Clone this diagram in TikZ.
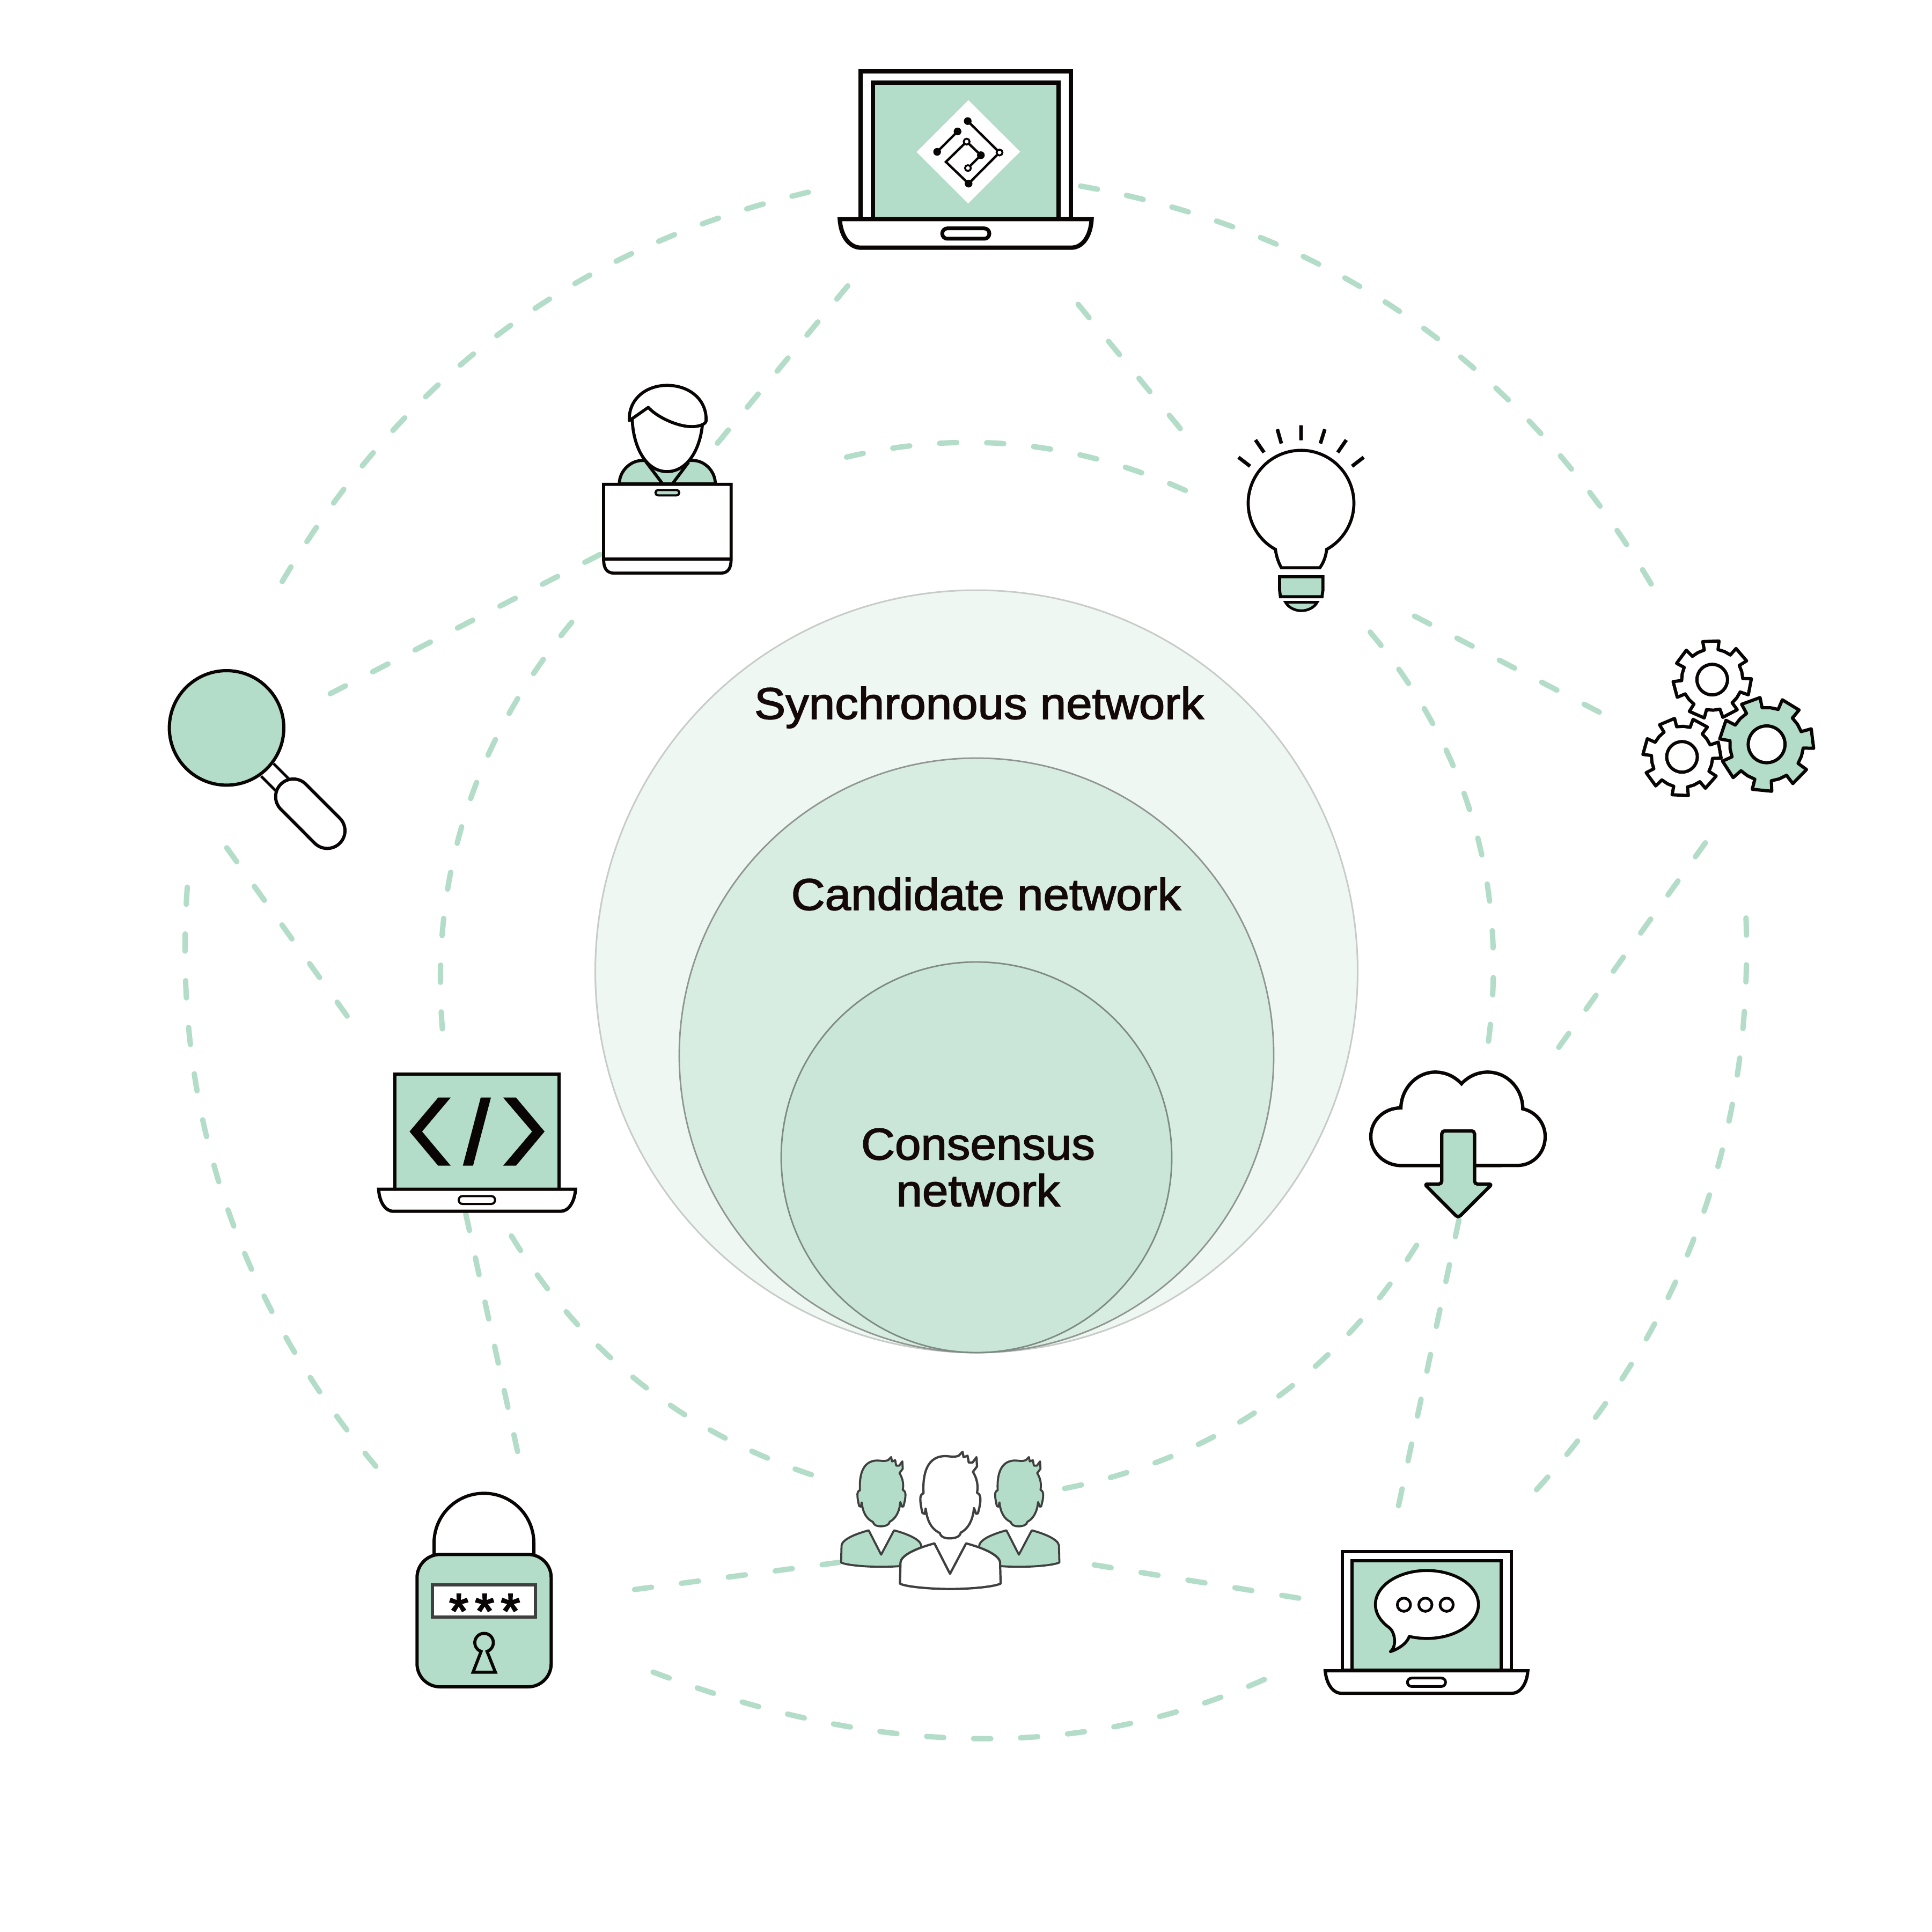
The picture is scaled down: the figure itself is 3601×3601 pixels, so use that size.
\documentclass[tikz,border=0pt]{standalone}
\usepackage{fontspec}
\setmainfont[FakeStretch=1.05,FakeBold=2]{Liberation Sans}
\newfontfamily\astfont[FakeBold=3]{Liberation Sans}
\usetikzlibrary{calc}
\definecolor{icoblack}{HTML}{0A0505}
\definecolor{icogray}{HTML}{3F3F3F}
\definecolor{icogreen}{HTML}{B3DDC8}
\definecolor{dashgreen}{HTML}{B3DDC8}
\definecolor{circA}{HTML}{EEF7F2}
\definecolor{circB}{HTML}{D8EDE2}
\definecolor{circC}{HTML}{C9E6D8}
\definecolor{edgeA}{HTML}{C8CCC9}
\definecolor{edgeB}{HTML}{8F9591}
\definecolor{edgeC}{HTML}{7E8A84}
\definecolor{labelink}{HTML}{140808}
\tikzset{
  x=0.01cm,y=-0.01cm,
  inkline/.style={draw=icoblack,line width=#1*0.28453pt,line join=miter},
  grayline/.style={draw=icogray,line width=#1*0.28453pt,line join=round},
  linkline/.style={draw=dashgreen,line width=2.85pt,line cap=round},
  netlabel/.style={inner sep=0pt,outer sep=0pt,text=labelink,anchor=base,font=\fontsize{23.6pt}{24.67pt}\selectfont},
}
\newcommand\setdashfor[1]{%
  \pgfmathsetmacro\dashL{#1}%
  \pgfmathsetmacro\dashN{max(1,round((\dashL-9.1)/24.5))}%
  \pgfmathsetmacro\dashO{(\dashL-9.1)/\dashN-9.1}%
  \xdef\dashoff{\dashO}}
\newcommand\curvelink[3]{%
  \path let \p1=($(#1)-(#3)$), \p2=($(#1)-(#2)$), \p3=($(#2)-(#3)$),
    \n1={veclen(\x1,\y1)}, \n2={veclen(\x2,\y2)}, \n3={veclen(\x3,\y3)} in
    \pgfextra{\setdashfor{\n2+\n3+(\n2+\n3-\n1)/3}};
  \coordinate (qq) at ($2*(#2)-0.5*(#1)-0.5*(#3)$);
  \draw[linkline,dash pattern=on 9.1pt off \dashoff pt] (#1) .. controls ($(#1)!0.66667!(qq)$) and ($(#3)!0.66667!(qq)$) .. (#3);}
\newcommand\straightlink[2]{%
  \path let \p1=($(#1)-(#2)$), \n1={veclen(\x1,\y1)} in \pgfextra{\setdashfor{\n1}};
  \draw[linkline,dash pattern=on 9.1pt off \dashoff pt] (#1) -- (#2);}
\newcommand\gearicon[6]{%
  \begin{scope}[shift={(#1,#2)}]
  \draw[inkline=6,fill=#6,line join=round] ({#5-13}:#3)
    \foreach \i in {0,...,6}{
      -- ({#5+\i*51.4286-12}:#4) -- ({#5+\i*51.4286+12}:#4)
      -- ({#5+\i*51.4286+13}:#3) -- ({#5+\i*51.4286+25.7}:#3)
      -- ({#5+\i*51.4286+38.4}:#3)} -- cycle;
  \draw[inkline=6,fill=white] (0,0) circle[radius=#3/2];
  \end{scope}}
\newcommand\manicon[2]{%
  \draw[grayline=#2,fill=#1] (605,590) .. controls (530,610) and (415,650) .. (415,700) -- (412,815)
     .. controls (450,835) and (600,845) .. (692,845) .. controls (790,845) and (930,835) .. (975,815)
     -- (972,695) .. controls (965,650) and (860,610) .. (782,590) -- (692,760) -- cycle;
  \draw[grayline=#2,fill=#1] (690,562) .. controls (665,562) and (640,555) .. (635,532)
     .. controls (590,510) and (565,470) .. (556,395) -- (550,425) -- (538,420)
     .. controls (532,395) and (526,365) .. (526,340) .. controls (526,322) and (535,312) .. (544,310)
     .. controls (540,240) and (545,102) .. (665,102) .. controls (690,102) and (715,110) .. (740,100)
     -- (762,78) -- (768,108) -- (790,100) -- (797,138) -- (818,138) -- (840,108) -- (843,160) -- (820,190)
     .. controls (845,230) and (850,270) .. (843,308) .. controls (855,310) and (862,325) .. (862,342)
     .. controls (862,370) and (855,395) .. (848,422) -- (838,425) -- (826,392)
     .. controls (820,465) and (790,510) .. (752,530) .. controls (748,555) and (715,562) .. (690,562) -- cycle;}
\begin{document}
\begin{tikzpicture}
\useasboundingbox (0,0) rectangle (3601,3601);
\fill[white] (0,0) rectangle (3601,3601);
% nested networks
\draw[fill=circA,draw=edgeA,line width=0.85pt] (1820,1810.5) circle[radius=710.5];
\draw[fill=circB,draw=edgeB,line width=0.8pt] (1820,1967) circle[radius=554];
\draw[fill=circC,draw=edgeC,line width=0.8pt] (1820,2157) circle[radius=364];
% connector ends
\foreach \n/\px/\py in {
  a1/229/472,a2/409/268,a3/656/156,
  b1/877/151,b2/1145/259,b3/1340/474,
  c1/152/720,c2/181/970,c3/305/1190,
  d1/530/1357,d2/792/1411,d3/1026/1363,
  e1/1417/745,e2/1379/994,e3/1247/1209,
  f1/688/232,f2/582/360,
  g1/875/247,g2/958/348,
  h1/687/371,h2/826/361,h3/962/398,
  i1/487/450,i2/268/563,
  j1/1148/500,j2/1298/578,
  k1/464/505,k2/378/660,k3/359/835,
  l1/1112/513,l2/1196/668,l3/1208/845,
  m1/184/688,m2/282/825,
  n1/1384/684,n2/1265/850,
  o1/378/985,o2/420/1178,
  p1/415/1003,p2/519/1122,p3/659/1197,
  q1/864/1208,q2/1028/1140,q3/1150/1010,
  r1/1184/990,r2/1135/1222,
  s1/681/1268,s2/515/1290,
  t1/888/1270,t2/1054/1297}
  {\coordinate (\n) at (\px*2.2966,\py*2.2966);}
\curvelink{a1}{a2}{a3}
\curvelink{b1}{b2}{b3}
\curvelink{c1}{c2}{c3}
\curvelink{d1}{d2}{d3}
\curvelink{e1}{e2}{e3}
\curvelink{h1}{h2}{h3}
\curvelink{k1}{k2}{k3}
\curvelink{l1}{l2}{l3}
\curvelink{p1}{p2}{p3}
\curvelink{q1}{q2}{q3}
\straightlink{f1}{f2}
\straightlink{g1}{g2}
\straightlink{i1}{i2}
\straightlink{j1}{j2}
\straightlink{m1}{m2}
\straightlink{n1}{n2}
\straightlink{o1}{o2}
\straightlink{r1}{r2}
\straightlink{s1}{s2}
\straightlink{t1}{t2}
% top laptop
\draw[inkline=8,fill=white] (1604.4,133) rectangle (1995.5,408);
\draw[inkline=8,fill=icogreen] (1627.3,154.3) rectangle (1972.5,408);
\fill[white] (1804.9,186.7) -- (1901.3,282.7) -- (1804.5,379.3) -- (1708.4,283.3) -- cycle;
\draw[inkline=4.5] (1803.7,225.7) -- (1863,284.3) -- (1805.3,342.3) -- (1763,301.7) -- (1801.7,264) -- (1828.2,289.3) -- (1804.1,313.3);
\draw[inkline=4.5] (1784.7,245) -- (1746.7,283);
\fill[icoblack] (1803.7,225.7) circle[radius=7.2] (1784.7,245) circle[radius=7.2] (1746.7,283) circle[radius=7.2] (1828.2,289.3) circle[radius=7.2] (1805.3,342.3) circle[radius=7.2];
\draw[inkline=3.5,fill=white] (1863,284.3) circle[radius=5.5] (1801.7,264) circle[radius=5.5] (1804.1,313.3) circle[radius=5.5];
\draw[inkline=8,fill=white] (1565.2,408.3) -- (2034.6,408.3) .. controls (2033,440) and (2018,461.7) .. (1996.3,461.7) -- (1604.8,461.7) .. controls (1583,461.7) and (1567,440) .. (1565.2,408.3) -- cycle;
\draw[inkline=7,fill=white,rounded corners=2.7pt] (1756.2,425.7) rectangle (1844,445);
% developer
\draw[inkline=5.7,fill=icogreen] (1154.3,902) .. controls (1154.3,878) and (1175,858.3) .. (1197,858.3) -- (1291.7,858.3) .. controls (1313,858.3) and (1333.3,878) .. (1333.3,902) -- cycle;
\draw[inkline=5.7] (1203.3,860) -- (1235,901.7) (1283.3,861.7) -- (1253.3,901.7);
\fill[white] (1178.3,760) -- (1178.3,780) .. controls (1180,835) and (1205,879) .. (1243.3,879) .. controls (1282,879) and (1308,835) .. (1310,780) -- (1310,760) -- cycle;
\draw[inkline=5.7] (1178.3,780) .. controls (1180,835) and (1205,879) .. (1243.3,879) .. controls (1282,879) and (1308,835) .. (1310,780);
\draw[inkline=5.7,fill=white,line join=round] (1173,784) .. controls (1171,745) and (1203,718.3) .. (1243.3,718.3) .. controls (1285,718.3) and (1318,745) .. (1316,785) .. controls (1314,792) and (1300,796) .. (1285,795) .. controls (1262,794) and (1225,778) .. (1208.3,759.3) -- cycle;
\draw[inkline=5.7,fill=white] (1125,902.7) -- (1362.7,902.7) -- (1362.7,1041.7) .. controls (1362.7,1058) and (1358,1068.3) .. (1343.3,1068.3) -- (1145,1068.3) .. controls (1130,1068.3) and (1125,1058) .. (1125,1041.7) -- cycle;
\draw[inkline=5.7] (1125,1041.7) -- (1362.7,1041.7);
\draw[inkline=4,fill=icogreen,rounded corners=1.4pt] (1221.7,913.3) rectangle (1266,923.3);
% bulb
\draw[inkline=5.7,fill=white] (2377.2,1024) arc[start angle=119,end angle=421,radius=98.5] .. controls (2471.5,1035) and (2468,1047) .. (2460,1058.3) -- (2388.3,1058.3) .. controls (2382,1047) and (2378.5,1035) .. (2377.2,1024) -- cycle;
\draw[inkline=6.7] (2425,792.7) -- (2425,820.7) (2380.7,800) -- (2388.3,826.7) (2340,820) -- (2356,843.3) (2308.3,852.3) -- (2330,869) (2469.3,800) -- (2461,826.7) (2509.3,820) -- (2493.3,843.3) (2541.7,852.3) -- (2520,869);
\draw[inkline=5.7,fill=icogreen] (2385,1075) -- (2465.7,1075) -- (2465.7,1100) -- (2464,1112.3) -- (2386.5,1112.3) -- (2385,1100) -- cycle;
\draw[inkline=5,fill=icogreen] (2396,1122.5) -- (2455,1122.5) .. controls (2450,1132) and (2438,1138.3) .. (2425.5,1138.3) .. controls (2413,1138.3) and (2401,1132) .. (2396,1122.5) -- cycle;
% gears
\gearicon{3191.3}{1266.7}{57}{73}{-92}{white}
\gearicon{3135}{1410.7}{57}{73}{-113}{white}
\gearicon{3292.7}{1387.3}{68.6}{88}{-110}{icogreen}
% magnifier
\draw[inkline=5] (510,1423.3) -- (538.3,1451.7) (486.7,1446.7) -- (515,1475);
\draw[inkline=6,fill=white] (633.3,1525) arc[start angle=-45,end angle=135,radius=33] -- (523.4,1508.3) arc[start angle=135,end angle=315,radius=33] -- cycle;
\draw[inkline=6,fill=icogreen] (422.3,1356.7) circle[radius=106.7];
% code laptop
\draw[inkline=6,fill=icogreen] (736,2001.7) rectangle (1041.7,2216.7);
\fill[icoblack] (840,2045.7) -- (816.7,2045.7) -- (763.3,2109) -- (816.7,2172.7) -- (840,2172.7) -- (786.7,2109) -- cycle;
\fill[icoblack] (896,2045.7) -- (915,2045.7) -- (881.7,2172.7) -- (862.7,2172.7) -- cycle;
\fill[icoblack] (937.7,2045.7) -- (961.7,2045.7) -- (1015,2109) -- (961.7,2172.7) -- (937.7,2172.7) -- (991.7,2109) -- cycle;
\draw[inkline=6,fill=white] (705.7,2216.7) -- (1072.7,2216.7) .. controls (1071,2240) and (1060,2257.7) .. (1045,2257.7) -- (733.3,2257.7) .. controls (718,2257.7) and (707,2240) .. (705.7,2216.7) -- cycle;
\draw[inkline=4,fill=white,rounded corners=2pt] (855,2229.3) rectangle (922.7,2244);
% cloud
\draw[inkline=6.3,fill=white] (2611,2172.5) .. controls (2580,2172) and (2555,2148) .. (2555,2118.5) .. controls (2555,2088) and (2580,2065) .. (2611,2065) .. controls (2612,2028) and (2641,1998.3) .. (2675,1998.3) .. controls (2695,1998.3) and (2712,2007) .. (2724,2020) .. controls (2736,2007) and (2753,1998.3) .. (2772.7,1998.3) .. controls (2810,1998.3) and (2838,2030) .. (2838.3,2066.7) .. controls (2862,2072) and (2880,2093) .. (2880,2118.5) .. controls (2880,2148) and (2858,2172) .. (2828.3,2172.3) -- cycle;
\draw[inkline=6.3,fill=icogreen,rounded corners=1.6pt] (2687.3,2107.7) -- (2748.3,2107.7) -- (2748.3,2207) -- (2781,2207) -- (2717.7,2270) -- (2655,2207) -- (2687.3,2207) -- cycle;
% people
\begin{scope}[shift={(1457.8,2695)},scale=0.26667]\manicon{icogreen}{3.8}\end{scope}
\begin{scope}[shift={(1714.5,2695)},scale=0.26667]\manicon{icogreen}{3.8}\end{scope}
\begin{scope}[shift={(1540,2680)},scale=0.33333]\manicon{white}{4.2}\end{scope}
% lock
\draw[inkline=6] (809,2897) -- (809,2876) .. controls (809,2825) and (850,2783.3) .. (902,2783.3) .. controls (954,2783.3) and (995,2825) .. (995,2876) -- (995,2897);
\draw[inkline=6,fill=icogreen,rounded corners=12.2pt] (777.3,2897.3) rectangle (1027.3,3144);
\draw[draw=icogray,line width=1.7pt,fill=white] (805.7,2954) rectangle (998.3,3014);
\node[inner sep=0pt,anchor=base,text=icoblack,font=\astfont\fontsize{26pt}{26pt}\selectfont] (stars) at (903.3,3034) {*\kern3.6pt*\kern3.6pt*};
\draw[inkline=5.7,fill=icogreen] (896.7,3078) arc[start angle=108.7,end angle=431.3,radius=17.3] -- (923.3,3116.7) -- (881.7,3116.7) -- cycle;
% chat laptop
\draw[inkline=6,fill=white] (2501.7,2892.3) rectangle (2816.7,3113.3);
\draw[inkline=6,fill=icogreen] (2520,2909.3) rectangle (2798.3,3113.3);
\draw[inkline=5.5,fill=white,line join=round] (2626.7,3050) arc[start angle=110,end angle=-223,x radius=96,y radius=63.3] .. controls (2600,3042) and (2604,3068) .. (2591.7,3078.3) .. controls (2605,3074) and (2622,3064) .. (2626.7,3050) -- cycle;
\draw[inkline=5,fill=white] (2616.7,2991) circle[radius=12.3] (2656.7,2991) circle[radius=12.3] (2696.3,2991) circle[radius=12.3];
\draw[inkline=6,fill=white] (2470,3114) -- (2847.7,3114) .. controls (2846,3138) and (2834,3156) .. (2818,3156) -- (2500,3156) .. controls (2484,3156) and (2472,3138) .. (2470,3114) -- cycle;
\draw[inkline=5,fill=white,rounded corners=2.2pt] (2623.3,3127.7) rectangle (2694.3,3143.3);
% labels
\node[netlabel] (syncnet) at (1825,1340) {Synchronous network};
\node[netlabel] (candnet) at (1838,1696) {Candidate network};
\node[netlabel,align=center,anchor=center] (consnet) at (1823,2176) {Consensus\\network};
\end{tikzpicture}
\end{document}
